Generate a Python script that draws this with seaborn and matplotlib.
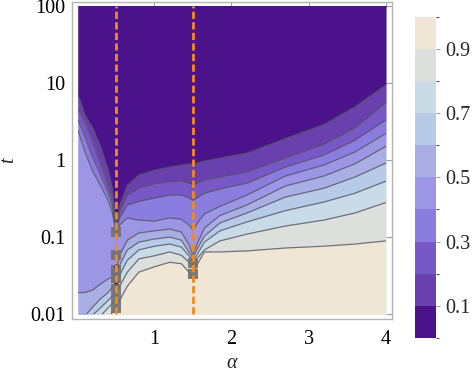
import numpy as np
import pandas as pd
import matplotlib
matplotlib.use("Agg")
import matplotlib.pyplot as plt
import seaborn as sns
from matplotlib.colors import ListedColormap, BoundaryNorm
from matplotlib.cm import ScalarMappable
from matplotlib.patches import Rectangle

sns.set_style("white")
plt.rcParams['font.family'] = ['Liberation Serif', 'DejaVu Serif']

# contour levels and band colours (value 0 -> 1)
levels = [0.0, 0.1, 0.2, 0.3, 0.4, 0.5, 0.6, 0.7, 0.8, 0.9, 1.0]
band_colors = ["#4b128c", "#6a3fae", "#7858c6", "#8a7ddf", "#9d96e6",
               "#a9afe4", "#b7cbe8", "#c8dbe7", "#dcdfdc", "#efe6d5"]
cbar_ticks = [0.1, 0.3, 0.5, 0.7, 0.9]

# alpha samples (left and right of the singular line alpha = 0.5)
alpha = [0.01, 0.1, 0.2, 0.3, 0.4, 0.45, 0.49,
         0.51, 0.55, 0.65, 0.8, 1.0, 1.2, 1.35, 1.45, 1.5, 1.55, 1.65,
         1.85, 2.2, 2.7, 3.2, 3.6, 4.0]

# t position of each contour line
t_01 = [7.0, 3.8, 2.6, 1.5, 0.74, 0.43, 0.19, 0.139, 0.26, 0.47, 0.64, 0.74,
        0.81, 0.86, 0.89, 0.89, 0.91, 0.97, 1.06, 1.23, 1.9, 2.9, 4.9, 9.4]
t_02 = [4.5, 3.1, 1.7, 0.91, 0.46, 0.33, 0.166, 0.131, 0.21, 0.35, 0.43, 0.49,
        0.52, 0.53, 0.50, 0.49, 0.50, 0.55, 0.60, 0.70, 1.06, 1.6, 2.6, 5.5]
t_03 = [3.3, 2.0, 1.09, 0.64, 0.38, 0.27, 0.148, 0.123, 0.177, 0.26, 0.29, 0.32,
        0.35, 0.35, 0.32, 0.30, 0.32, 0.37, 0.42, 0.50, 0.81, 1.16, 1.8, 3.3]
t_04 = [2.45, 1.27, 0.72, 0.47, 0.30, 0.22, 0.135, 0.116, 0.143, 0.177, 0.166, 0.161,
        0.177, 0.17, 0.143, 0.123, 0.148, 0.20, 0.25, 0.35, 0.62, 0.86, 1.27, 2.2]
t_05 = [0.019, 0.019, 0.0205, 0.0245, 0.0285, 0.030, 0.031, 0.037, 0.058, 0.091, 0.113, 0.12,
        0.127, 0.116, 0.079, 0.058, 0.079, 0.131, 0.19, 0.26, 0.46, 0.62, 0.89, 1.5]
t_06 = [0.0091, 0.0094, 0.0123, 0.0157, 0.019, 0.022, 0.024, 0.029, 0.043, 0.068, 0.086, 0.094,
        0.10, 0.091, 0.064, 0.053, 0.068, 0.103, 0.152, 0.205, 0.33, 0.43, 0.60, 0.91]
t_07 = [0.0072, 0.0072, 0.0097, 0.012, 0.015, 0.017, 0.019, 0.023, 0.032, 0.050, 0.068, 0.076,
        0.081, 0.074, 0.057, 0.049, 0.058, 0.086, 0.12, 0.157, 0.22, 0.285, 0.37, 0.53]
t_08 = [0.0053, 0.0053, 0.0074, 0.0094, 0.012, 0.0135, 0.0148, 0.0177, 0.023, 0.035, 0.052, 0.057,
        0.064, 0.058, 0.047, 0.043, 0.052, 0.068, 0.089, 0.109, 0.139, 0.166, 0.205, 0.28]
t_09 = [0.004, 0.004, 0.0058, 0.0074, 0.0091, 0.0103, 0.0113, 0.0135, 0.015, 0.023, 0.035, 0.041,
        0.047, 0.045, 0.035, 0.029, 0.043, 0.064, 0.064, 0.066, 0.072, 0.076, 0.081, 0.089]

t_min, t_max = 0.01, 100.0
alpha_min, alpha_max = 0.01, 4.0

# dashed markers at alpha = 0.5 and 1.5
alpha_marks = [0.5, 1.5]

# grey mesh blocks along the singular lines
block_alpha = [0.5, 0.5, 0.5, 0.5, 0.5, 0.5, 0.5, 1.5, 1.5]
block_t = [0.115, 0.058, 0.037, 0.029, 0.021, 0.0155, 0.012, 0.046, 0.033]
dot_alpha = [1.5, 0.5, 0.5]
dot_t = [0.5, 0.042, 0.026]

lines = [t_01, t_02, t_03, t_04, t_05, t_06, t_07, t_08, t_09]

fig = plt.figure(figsize=(4.74, 3.74), dpi=100)
ax = fig.add_axes([0.152, 0.147, 0.6745, 0.8476])
ax.set_yscale("log")

clip = Rectangle((alpha_min, t_min), alpha_max - alpha_min, t_max - t_min,
                 transform=ax.transData, facecolor="none", edgecolor="none")
ax.add_patch(clip)

a = np.array(alpha)
bounds = [np.full(len(a), t_max * 2)] + [np.array(l) for l in lines] + [np.full(len(a), t_min / 2)]
for k in range(10):
    f = ax.fill_between(a, bounds[k + 1], bounds[k], color=band_colors[k],
                        lw=0.4, edgecolor=band_colors[k])
    f.set_clip_path(clip)

# contour lines
df = pd.DataFrame({
    "alpha": np.tile(a, len(lines)),
    "t": np.concatenate(lines),
    "level": np.repeat(levels[1:10], len(a)),
})
n_before = len(ax.lines)
sns.lineplot(data=df, x="alpha", y="t", units="level", estimator=None,
             sort=False, color="#55555f", lw=0.9, alpha=0.8, ax=ax, legend=False)
for ln in ax.lines[n_before:]:
    ln.set_clip_path(clip)

ax.scatter(block_alpha, block_t, marker="s", s=48, color="#707070", alpha=0.9,
           linewidths=0, zorder=4)
ax.scatter(dot_alpha, dot_t, marker="o", s=10, color="#3a3040", linewidths=0, zorder=5)

ax.vlines(alpha_marks, t_min, t_max, colors="#f5891f", lw=2.0,
          linestyles=(0, (2.6, 1.2)), zorder=6)

ax.set_xlim(-0.067, 4.079)
ax.set_ylim(0.00861, 112.7)
ax.set_xticks([1, 2, 3, 4])
ax.set_xticklabels(["1", "2", "3", "4"])
ax.set_yticks([0.01, 0.1, 1, 10, 100])
ax.set_yticklabels(["0.01", "0.1", "1", "10", "100"])
ax.minorticks_off()
ax.tick_params(direction="in", length=4, width=0.8, color="#a0a0a0",
               top=True, right=True, labelsize=14.5, labelcolor="black")
ax.tick_params(axis="x", pad=8)
ax.tick_params(axis="y", pad=5)
ax.set_xlabel("")
ax.set_ylabel("")
for sp in ax.spines.values():
    sp.set_color("#b4b4b4")
    sp.set_linewidth(1.0)

fig.text(0.019, 1 - 160 / 374, "t", rotation=90, style="italic",
         fontsize=14.5, ha="center", va="center")
fig.text(0.489, 0.003, "α", style="italic", fontsize=14.5, ha="center", va="bottom")

# colour bar
cax = fig.add_axes([0.8755, 0.0963, 0.0443, 0.859])
cmap = ListedColormap(band_colors)
norm = BoundaryNorm(levels, cmap.N)
cb = fig.colorbar(ScalarMappable(norm=norm, cmap=cmap), cax=cax, ticks=cbar_ticks)
cb.outline.set_visible(False)
cb.ax.set_yticklabels([str(v) for v in cbar_ticks])
cb.ax.tick_params(length=3, width=0.8, color="#a0a0a0", labelsize=14.5, pad=4)

fig.savefig("out.png", dpi=100)
